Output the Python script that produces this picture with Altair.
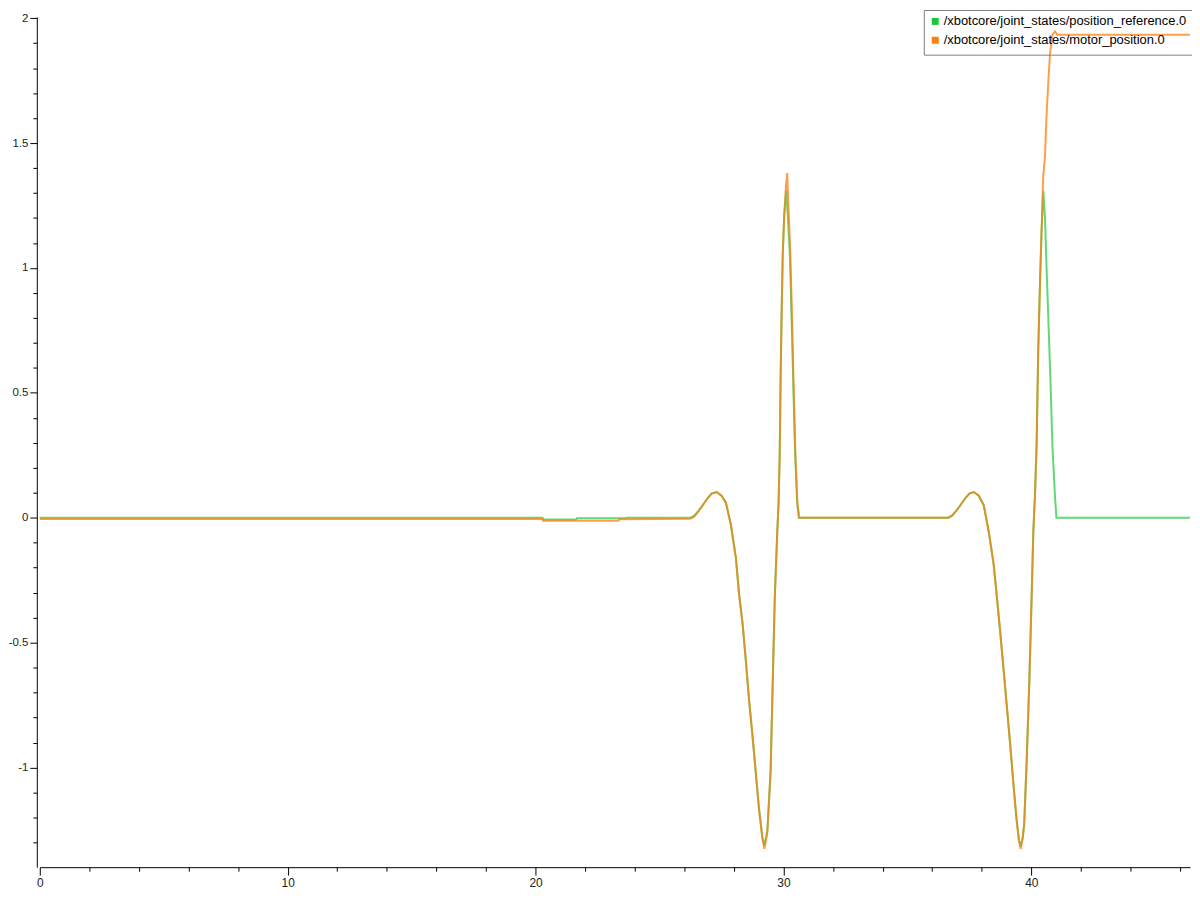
import altair as alt
import pandas as pd

REF_NAME = "/xbotcore/joint_states/position_reference.0"
MOT_NAME = "/xbotcore/joint_states/motor_position.0"

# position_reference (green)
ref_t = [0, 20.28, 20.3, 21.65, 21.67, 23.65, 23.67, 26.25, 26.4, 26.55, 26.7, 26.95, 27.1,
         27.31, 27.5, 27.68, 27.88, 28.08, 28.21, 28.35, 28.48, 28.61, 28.75, 28.88,
         29.01, 29.15, 29.23, 29.35, 29.48, 29.57, 29.65, 29.75, 29.8, 29.85, 29.88,
         29.92, 29.97, 30.03, 30.11, 30.18, 30.26, 30.33, 30.4, 30.47, 30.55, 30.62,
         36.65, 36.8, 36.95, 37.1, 37.35, 37.5, 37.68, 37.88, 38.08, 38.28, 38.48, 38.61,
         38.75, 38.88, 39.01, 39.15, 39.28, 39.41, 39.5, 39.57, 39.65, 39.71, 39.81,
         39.92, 40.01, 40.08, 40.15, 40.21, 40.28, 40.35, 40.41, 40.48, 40.55, 40.61,
         40.68, 40.77, 40.85, 40.95, 41.01, 46.4]
ref_v = [0, 0, -0.007, -0.007, -0.002, -0.002, 0, 0, 0.008, 0.025, 0.045, 0.08, 0.097,
         0.103, 0.088, 0.06, -0.029, -0.161, -0.306, -0.424, -0.569, -0.727, -0.872, -1.017,
         -1.162, -1.28, -1.313, -1.254, -1.017, -0.648, -0.319, -0.055, 0.05, 0.26, 0.525,
         0.788, 1.05, 1.21, 1.31, 1.2, 1.05, 0.788, 0.525, 0.26, 0.063, 0,
         0, 0.008, 0.025, 0.045, 0.08, 0.097, 0.103, 0.088, 0.05, -0.055, -0.187, -0.319,
         -0.464, -0.609, -0.754, -0.912, -1.07, -1.215, -1.29, -1.315, -1.28, -1.228, -0.978,
         -0.648, -0.319, -0.055, 0.1, 0.287, 0.683, 0.946, 1.143, 1.308, 1.2, 1.01,
         0.81, 0.55, 0.287, 0.09, 0, 0]

# motor_position (orange)
mot_t = [0, 20.28, 20.3, 23.35, 23.37, 26.25, 26.4, 26.55, 26.7, 26.95, 27.1,
         27.31, 27.5, 27.68, 27.88, 28.08, 28.21, 28.35, 28.48, 28.61, 28.75, 28.88,
         29.01, 29.15, 29.23, 29.35, 29.48, 29.57, 29.65, 29.75, 29.8, 29.85, 29.88,
         29.92, 29.97, 30.03, 30.1, 30.15, 30.2, 30.28, 30.35, 30.41, 30.48, 30.56, 30.64,
         36.65, 36.8, 36.95, 37.1, 37.35, 37.5, 37.68, 37.88, 38.08, 38.28, 38.48, 38.61,
         38.75, 38.88, 39.01, 39.15, 39.28, 39.41, 39.5, 39.57, 39.65, 39.71, 39.81,
         39.92, 40.01, 40.08, 40.15, 40.21, 40.28, 40.35, 40.41, 40.48, 40.55, 40.61,
         40.68, 40.75, 40.85, 40.95, 41.05, 46.4]
mot_v = [-0.005, -0.005, -0.012, -0.012, -0.006, -0.004, 0.004, 0.022, 0.043, 0.079, 0.097,
         0.103, 0.088, 0.06, -0.029, -0.161, -0.306, -0.424, -0.569, -0.727, -0.872, -1.017,
         -1.162, -1.285, -1.325, -1.26, -1.017, -0.648, -0.319, -0.055, 0.05, 0.26, 0.525,
         0.788, 1.05, 1.21, 1.33, 1.38, 1.25, 1.05, 0.788, 0.525, 0.26, 0.063, 0,
         0, 0.008, 0.025, 0.045, 0.08, 0.097, 0.103, 0.088, 0.05, -0.055, -0.187, -0.319,
         -0.464, -0.609, -0.754, -0.912, -1.07, -1.215, -1.295, -1.325, -1.285, -1.228, -0.978,
         -0.648, -0.319, -0.055, 0.1, 0.287, 0.683, 0.946, 1.143, 1.37, 1.447, 1.605,
         1.737, 1.855, 1.934, 1.947, 1.934, 1.934]

x_ticks = list(range(0, 47, 2))
y_ticks = [round(i * 0.1, 1) for i in range(-14, 21)]

ref_df = pd.DataFrame({"t": ref_t, "v": ref_v, "series": REF_NAME})
mot_df = pd.DataFrame({"t": mot_t, "v": mot_v, "series": MOT_NAME})

x_major = "datum.value % 10 == 0"
y_major = "abs(datum.value * 2 - round(datum.value * 2)) < 0.001"
tick_font = "Liberation Sans"

x_enc = alt.X(
    "t:Q",
    scale=alt.Scale(domain=[0, 46.4], nice=False, zero=False),
    axis=alt.Axis(
        values=x_ticks,
        title=None,
        grid=False,
        labelExpr=f"{x_major} ? datum.label : ''",
        tickSize={"condition": {"test": x_major, "value": 8}, "value": 4},
        domainColor="black",
        tickColor="black",
        labelColor="#222",
        labelFont=tick_font,
        labelFontSize=12,
        labelPadding=2,
        labelFlush=False,
    ),
)
y_enc = alt.Y(
    "v:Q",
    scale=alt.Scale(domain=[-1.399, 2.005], nice=False, zero=False),
    axis=alt.Axis(
        values=y_ticks,
        title=None,
        grid=False,
        offset=3,
        labelExpr=f"{y_major} ? toString(round(datum.value * 10) / 10) : ''",
        tickSize={"condition": {"test": y_major, "value": 7}, "value": 4},
        domainColor="black",
        tickColor="black",
        labelColor="#222",
        labelFont=tick_font,
        labelFontSize=11.5,
        labelPadding=2,
        labelFlush=False,
    ),
)
# no fill on the legend box: the traces stay visible through it, as in the source
color = alt.Color(
    "series:N",
    scale=alt.Scale(domain=[REF_NAME, MOT_NAME], range=["#1ac938", "#ff7f0e"]),
    legend=alt.Legend(
        orient="none",
        legendX=890,
        legendY=-7,
        title=None,
        symbolType="square",
        symbolSize=9,
        symbolStrokeWidth=4,
        symbolOpacity=1,
        labelFont="Liberation Sans",
        labelFontSize=13,
        labelColor="black",
        labelLimit=400,
        labelOffset=2,
        strokeColor="#808080",
        padding=5,
        rowPadding=0,
    ),
)

ref_line = alt.Chart(ref_df).mark_line(strokeWidth=2, opacity=0.7).encode(
    x=x_enc, y=y_enc, color=color, order="t:Q"
)
mot_line = alt.Chart(mot_df).mark_line(strokeWidth=2, opacity=0.75).encode(
    x=x_enc, y=y_enc, color=color, order="t:Q"
)

chart = (
    alt.layer(ref_line, mot_line)
    .properties(
        width=1158,
        height=856,
        autosize=alt.AutoSizeParams(type="none"),
        padding={"left": 32, "top": 6, "right": 2, "bottom": 22},
        background="white",
    )
    .configure_view(stroke=None)
)

chart.save("out.html", embed_options={"renderer": "svg", "actions": False})
